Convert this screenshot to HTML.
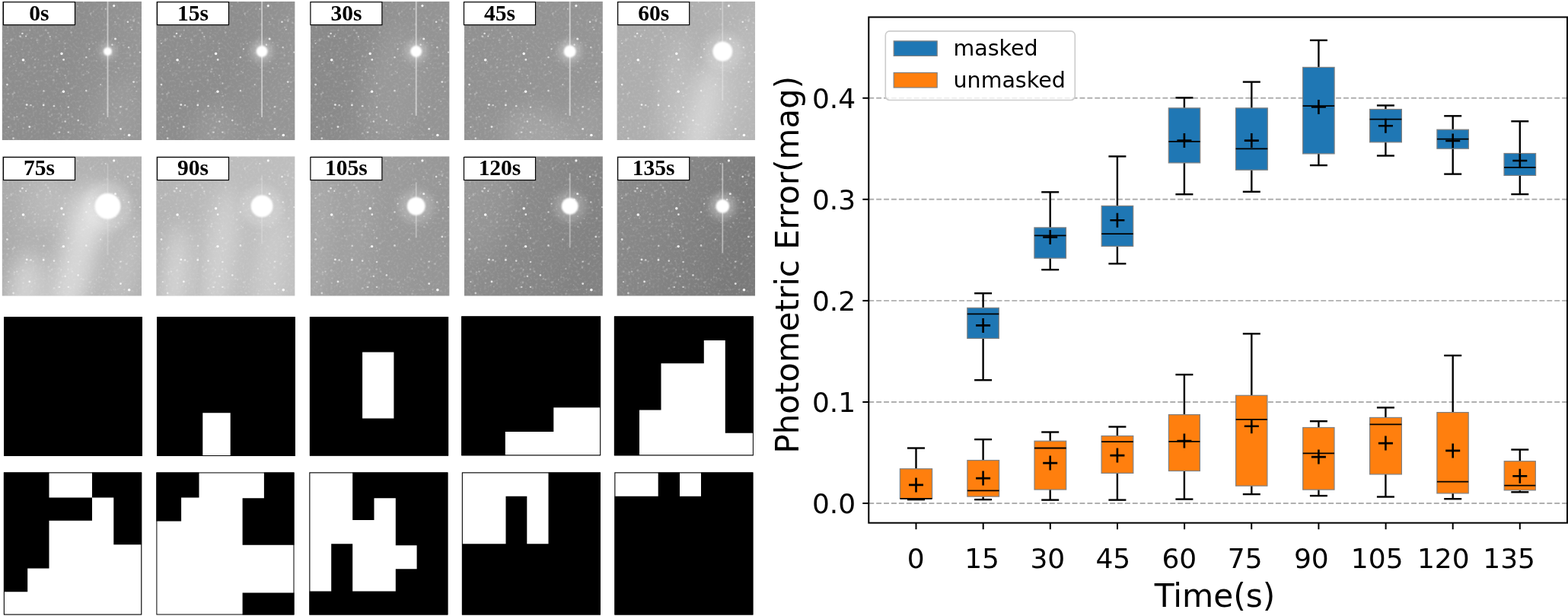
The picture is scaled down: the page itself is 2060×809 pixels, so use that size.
<!DOCTYPE html><html><head><meta charset="utf-8"><title>Photometric error figure</title>
<style>html,body{margin:0;padding:0;background:#fff;}body{width:2060px;height:809px;overflow:hidden;}svg{display:block}</style>
</head><body>
<svg width="2060" height="809" viewBox="0 0 2060 809">
<defs>
<filter id="bl" x="-50%" y="-50%" width="200%" height="200%"><feGaussianBlur stdDeviation="14"/></filter>
<filter id="nz" x="0" y="0" width="100%" height="100%"><feTurbulence type="fractalNoise" baseFrequency="0.3" numOctaves="2" seed="5"/><feColorMatrix type="matrix" values="0 0 0 0 1 0 0 0 0 1 0 0 0 0 1 1.3 0 0 0 -0.6"/></filter>
<filter id="bl3" x="-100%" y="-100%" width="300%" height="300%"><feGaussianBlur stdDeviation="5"/></filter>
<filter id="bl4" x="-50%" y="-50%" width="200%" height="200%"><feGaussianBlur stdDeviation="1.3"/></filter>
<filter id="bl2" x="-50%" y="-50%" width="200%" height="200%"><feGaussianBlur stdDeviation="0.75"/></filter>
<radialGradient id="st"><stop offset="0" stop-color="#fff" stop-opacity="1"/><stop offset="0.7" stop-color="#fff" stop-opacity="1"/><stop offset="0.85" stop-color="#fff" stop-opacity="0.55"/><stop offset="1" stop-color="#fff" stop-opacity="0"/></radialGradient>
<g id="sf" fill="#fff"><circle cx="147.1" cy="5.6" r="1.60" opacity="0.90"/><circle cx="165.3" cy="26.8" r="1.30" opacity="0.70"/><circle cx="148.9" cy="49.1" r="1.50" opacity="0.80"/><circle cx="26.8" cy="42.0" r="1.30" opacity="0.70"/><circle cx="31.5" cy="45.6" r="1.10" opacity="0.60"/><circle cx="78.4" cy="68.5" r="1.70" opacity="0.95"/><circle cx="27.9" cy="76.7" r="1.80" opacity="0.95"/><circle cx="81.0" cy="76.4" r="1.40" opacity="0.80"/><circle cx="110.7" cy="73.2" r="1.20" opacity="0.60"/><circle cx="114.8" cy="62.4" r="1.10" opacity="0.55"/><circle cx="181.2" cy="66.7" r="1.10" opacity="0.60"/><circle cx="166.5" cy="60.2" r="1.20" opacity="0.55"/><circle cx="144.8" cy="56.7" r="1.20" opacity="0.60"/><circle cx="6.8" cy="55.0" r="1.00" opacity="0.50"/><circle cx="170.6" cy="36.8" r="1.00" opacity="0.50"/><circle cx="136.0" cy="9.7" r="1.00" opacity="0.50"/><circle cx="63.2" cy="46.1" r="1.10" opacity="0.50"/><circle cx="6.8" cy="109.1" r="1.40" opacity="0.70"/><circle cx="80.8" cy="118.3" r="1.70" opacity="0.95"/><circle cx="110.7" cy="117.1" r="1.30" opacity="0.60"/><circle cx="54.9" cy="117.4" r="1.20" opacity="0.55"/><circle cx="32.6" cy="135.6" r="1.40" opacity="0.80"/><circle cx="37.9" cy="136.1" r="1.20" opacity="0.60"/><circle cx="54.6" cy="136.1" r="1.40" opacity="0.80"/><circle cx="68.4" cy="137.3" r="1.30" opacity="0.65"/><circle cx="87.2" cy="138.7" r="1.30" opacity="0.60"/><circle cx="83.1" cy="157.5" r="1.30" opacity="0.60"/><circle cx="100.1" cy="156.1" r="1.30" opacity="0.65"/><circle cx="36.2" cy="164.6" r="1.40" opacity="0.80"/><circle cx="8.6" cy="164.9" r="1.10" opacity="0.55"/><circle cx="155.9" cy="167.3" r="1.40" opacity="0.80"/><circle cx="167.1" cy="175.5" r="1.80" opacity="0.95"/><circle cx="75.5" cy="171.6" r="1.20" opacity="0.55"/><circle cx="87.2" cy="171.6" r="1.20" opacity="0.55"/><circle cx="173.0" cy="105.6" r="1.40" opacity="0.70"/><circle cx="155.9" cy="138.3" r="1.20" opacity="0.55"/><circle cx="15.0" cy="179.6" r="1.30" opacity="0.60"/><circle cx="129.5" cy="109.1" r="1.10" opacity="0.50"/><circle cx="87.2" cy="107.4" r="1.10" opacity="0.50"/><circle cx="59.6" cy="28.2" r="1.26" opacity="0.11"/><circle cx="98.0" cy="66.8" r="0.84" opacity="0.19"/><circle cx="7.8" cy="79.1" r="0.85" opacity="0.12"/><circle cx="77.8" cy="149.8" r="0.89" opacity="0.14"/><circle cx="114.6" cy="171.6" r="1.20" opacity="0.17"/><circle cx="177.7" cy="9.4" r="1.40" opacity="0.15"/><circle cx="27.1" cy="22.2" r="1.02" opacity="0.25"/><circle cx="33.7" cy="105.7" r="1.25" opacity="0.17"/><circle cx="100.1" cy="12.3" r="0.84" opacity="0.14"/><circle cx="124.2" cy="78.0" r="1.02" opacity="0.21"/><circle cx="83.0" cy="55.0" r="1.36" opacity="0.23"/><circle cx="45.2" cy="104.4" r="1.17" opacity="0.26"/><circle cx="133.0" cy="52.8" r="1.49" opacity="0.12"/><circle cx="76.7" cy="137.3" r="0.91" opacity="0.19"/><circle cx="8.1" cy="121.3" r="1.34" opacity="0.20"/><circle cx="159.5" cy="57.5" r="1.29" opacity="0.21"/><circle cx="106.0" cy="83.1" r="1.39" opacity="0.27"/><circle cx="86.8" cy="120.5" r="0.84" opacity="0.23"/><circle cx="118.1" cy="179.8" r="1.38" opacity="0.15"/><circle cx="70.8" cy="121.4" r="0.82" opacity="0.18"/><circle cx="31.4" cy="22.1" r="0.84" opacity="0.24"/><circle cx="24.4" cy="45.6" r="1.07" opacity="0.26"/><circle cx="15.6" cy="81.9" r="1.18" opacity="0.26"/><circle cx="149.3" cy="156.5" r="0.99" opacity="0.17"/><circle cx="65.9" cy="160.2" r="1.47" opacity="0.13"/><circle cx="32.9" cy="42.8" r="0.96" opacity="0.19"/><circle cx="107.6" cy="48.3" r="0.80" opacity="0.18"/><circle cx="67.8" cy="102.9" r="1.47" opacity="0.22"/><circle cx="94.3" cy="112.2" r="1.27" opacity="0.11"/><circle cx="163.8" cy="141.4" r="1.41" opacity="0.24"/><circle cx="72.0" cy="72.8" r="0.87" opacity="0.21"/><circle cx="12.3" cy="13.1" r="0.95" opacity="0.13"/><circle cx="62.5" cy="10.5" r="0.80" opacity="0.13"/><circle cx="19.4" cy="66.4" r="0.82" opacity="0.26"/><circle cx="112.1" cy="27.7" r="0.98" opacity="0.16"/><circle cx="66.9" cy="23.1" r="1.39" opacity="0.28"/><circle cx="85.3" cy="88.1" r="0.86" opacity="0.12"/><circle cx="63.0" cy="48.7" r="1.38" opacity="0.13"/><circle cx="5.2" cy="172.2" r="1.17" opacity="0.13"/><circle cx="99.3" cy="5.9" r="1.17" opacity="0.28"/><circle cx="157.3" cy="126.3" r="0.98" opacity="0.17"/><circle cx="31.2" cy="139.9" r="1.17" opacity="0.24"/><circle cx="60.7" cy="41.1" r="1.37" opacity="0.28"/><circle cx="155.3" cy="146.1" r="1.37" opacity="0.23"/><circle cx="42.0" cy="94.2" r="1.05" opacity="0.11"/><circle cx="6.1" cy="51.3" r="0.98" opacity="0.22"/><circle cx="174.1" cy="81.5" r="1.46" opacity="0.28"/><circle cx="173.9" cy="66.6" r="0.95" opacity="0.14"/><circle cx="36.6" cy="37.8" r="1.24" opacity="0.26"/><circle cx="153.1" cy="87.3" r="1.26" opacity="0.24"/><circle cx="16.3" cy="119.9" r="1.44" opacity="0.24"/><circle cx="136.8" cy="87.0" r="0.92" opacity="0.24"/><circle cx="61.2" cy="145.1" r="1.48" opacity="0.17"/><circle cx="73.7" cy="171.4" r="1.31" opacity="0.13"/><circle cx="24.0" cy="28.2" r="1.43" opacity="0.25"/><circle cx="27.5" cy="149.8" r="1.49" opacity="0.22"/><circle cx="64.4" cy="99.8" r="0.89" opacity="0.10"/><circle cx="176.7" cy="117.9" r="1.17" opacity="0.27"/><circle cx="79.5" cy="157.9" r="1.38" opacity="0.14"/><circle cx="46.6" cy="53.7" r="0.97" opacity="0.21"/><circle cx="47.9" cy="76.4" r="0.89" opacity="0.26"/><circle cx="65.0" cy="83.5" r="1.21" opacity="0.26"/><circle cx="77.1" cy="166.2" r="1.15" opacity="0.20"/><circle cx="95.8" cy="4.4" r="1.11" opacity="0.13"/><circle cx="1.7" cy="144.9" r="0.92" opacity="0.19"/><circle cx="132.3" cy="101.2" r="1.03" opacity="0.19"/><circle cx="101.5" cy="142.2" r="0.87" opacity="0.20"/><circle cx="46.0" cy="50.8" r="1.34" opacity="0.19"/><circle cx="102.7" cy="137.8" r="1.44" opacity="0.18"/><circle cx="111.9" cy="92.0" r="1.16" opacity="0.22"/><circle cx="82.9" cy="97.0" r="1.13" opacity="0.27"/><circle cx="127.6" cy="158.8" r="1.46" opacity="0.15"/><circle cx="102.3" cy="170.8" r="1.39" opacity="0.12"/><circle cx="23.0" cy="80.6" r="0.85" opacity="0.14"/><circle cx="14.2" cy="121.5" r="1.35" opacity="0.26"/><circle cx="29.0" cy="129.9" r="1.26" opacity="0.13"/><circle cx="160.8" cy="175.2" r="0.95" opacity="0.27"/><circle cx="73.1" cy="88.7" r="1.49" opacity="0.25"/><circle cx="30.2" cy="78.7" r="1.16" opacity="0.16"/><circle cx="36.4" cy="58.3" r="1.31" opacity="0.10"/><circle cx="101.3" cy="80.3" r="0.81" opacity="0.16"/><circle cx="113.9" cy="93.2" r="0.85" opacity="0.28"/><circle cx="143.7" cy="175.9" r="0.87" opacity="0.15"/><circle cx="8.2" cy="141.2" r="0.99" opacity="0.12"/><circle cx="77.4" cy="165.1" r="1.37" opacity="0.15"/><circle cx="28.0" cy="166.5" r="1.20" opacity="0.23"/><circle cx="17.2" cy="11.4" r="1.28" opacity="0.18"/><circle cx="14.1" cy="169.9" r="1.24" opacity="0.24"/><circle cx="16.2" cy="155.1" r="0.85" opacity="0.26"/><circle cx="83.1" cy="62.0" r="1.19" opacity="0.27"/><circle cx="49.5" cy="24.3" r="1.17" opacity="0.14"/><circle cx="20.8" cy="30.1" r="0.84" opacity="0.14"/><circle cx="57.5" cy="55.9" r="1.33" opacity="0.15"/><circle cx="91.5" cy="33.0" r="1.04" opacity="0.10"/><circle cx="46.3" cy="3.8" r="1.31" opacity="0.20"/><circle cx="35.3" cy="86.5" r="1.45" opacity="0.12"/><circle cx="149.2" cy="78.8" r="1.15" opacity="0.25"/><circle cx="72.1" cy="92.2" r="1.28" opacity="0.28"/><circle cx="63.0" cy="150.8" r="1.29" opacity="0.21"/><circle cx="74.3" cy="63.6" r="0.84" opacity="0.12"/><circle cx="13.8" cy="134.4" r="0.98" opacity="0.13"/><circle cx="16.3" cy="152.4" r="1.41" opacity="0.22"/><circle cx="52.0" cy="44.6" r="1.01" opacity="0.18"/><circle cx="29.5" cy="81.2" r="0.98" opacity="0.27"/><circle cx="177.0" cy="99.5" r="0.97" opacity="0.27"/><circle cx="57.0" cy="65.2" r="0.80" opacity="0.17"/><circle cx="86.9" cy="91.5" r="0.94" opacity="0.19"/><circle cx="1.9" cy="48.6" r="0.86" opacity="0.17"/><circle cx="8.5" cy="5.0" r="1.01" opacity="0.14"/><circle cx="107.0" cy="96.3" r="1.33" opacity="0.22"/><circle cx="130.6" cy="159.2" r="1.07" opacity="0.16"/><circle cx="179.2" cy="27.9" r="1.31" opacity="0.22"/><circle cx="8.9" cy="151.4" r="1.42" opacity="0.21"/><circle cx="133.8" cy="147.2" r="0.90" opacity="0.19"/><circle cx="92.3" cy="151.3" r="1.36" opacity="0.25"/><circle cx="106.7" cy="161.7" r="1.28" opacity="0.22"/><circle cx="42.6" cy="6.6" r="0.89" opacity="0.16"/><circle cx="20.0" cy="151.4" r="1.19" opacity="0.21"/><circle cx="114.3" cy="123.5" r="1.14" opacity="0.10"/><circle cx="145.4" cy="135.7" r="1.15" opacity="0.20"/><circle cx="120.3" cy="12.9" r="1.32" opacity="0.15"/><circle cx="14.5" cy="48.8" r="1.31" opacity="0.14"/><circle cx="134.9" cy="176.6" r="1.15" opacity="0.17"/><circle cx="87.7" cy="124.1" r="1.34" opacity="0.21"/><circle cx="117.3" cy="14.9" r="0.90" opacity="0.15"/><circle cx="135.5" cy="55.8" r="1.20" opacity="0.10"/><circle cx="12.0" cy="49.4" r="1.27" opacity="0.22"/><circle cx="123.3" cy="53.4" r="1.16" opacity="0.18"/><circle cx="85.4" cy="22.3" r="1.43" opacity="0.14"/><circle cx="178.0" cy="169.5" r="0.81" opacity="0.18"/><circle cx="149.4" cy="175.3" r="1.11" opacity="0.15"/><circle cx="39.0" cy="171.2" r="0.95" opacity="0.20"/><circle cx="26.7" cy="95.3" r="1.47" opacity="0.12"/><circle cx="149.5" cy="92.6" r="1.42" opacity="0.23"/><circle cx="42.9" cy="162.6" r="1.14" opacity="0.10"/><circle cx="1.6" cy="89.5" r="1.12" opacity="0.15"/><circle cx="26.5" cy="62.9" r="1.02" opacity="0.25"/><circle cx="1.3" cy="136.1" r="1.39" opacity="0.12"/><circle cx="168.7" cy="129.3" r="1.43" opacity="0.15"/><circle cx="68.4" cy="71.7" r="1.50" opacity="0.21"/><circle cx="66.3" cy="78.0" r="0.99" opacity="0.11"/><circle cx="19.4" cy="151.2" r="1.00" opacity="0.27"/><circle cx="46.1" cy="48.8" r="1.16" opacity="0.13"/><circle cx="68.6" cy="173.1" r="1.42" opacity="0.25"/><circle cx="115.2" cy="165.4" r="1.46" opacity="0.20"/><circle cx="131.2" cy="9.9" r="1.31" opacity="0.18"/><circle cx="137.2" cy="117.0" r="1.00" opacity="0.11"/><circle cx="168.7" cy="23.9" r="1.13" opacity="0.16"/><circle cx="54.9" cy="134.0" r="1.48" opacity="0.15"/><circle cx="119.7" cy="55.2" r="1.19" opacity="0.17"/><circle cx="31.3" cy="30.1" r="0.95" opacity="0.26"/><circle cx="91.0" cy="40.6" r="1.43" opacity="0.28"/><circle cx="82.4" cy="26.1" r="0.93" opacity="0.12"/><circle cx="62.9" cy="17.4" r="0.97" opacity="0.15"/><circle cx="104.1" cy="160.7" r="1.32" opacity="0.17"/><circle cx="75.9" cy="95.4" r="1.06" opacity="0.16"/><circle cx="12.2" cy="51.0" r="1.48" opacity="0.12"/><circle cx="92.1" cy="114.3" r="1.40" opacity="0.14"/><circle cx="50.1" cy="45.7" r="1.08" opacity="0.18"/><circle cx="173.7" cy="153.8" r="1.41" opacity="0.10"/><circle cx="6.8" cy="128.7" r="1.43" opacity="0.19"/><circle cx="107.3" cy="1.0" r="1.07" opacity="0.27"/><circle cx="150.4" cy="155.0" r="1.48" opacity="0.14"/><circle cx="20.7" cy="28.8" r="1.17" opacity="0.22"/><circle cx="171.4" cy="130.9" r="1.25" opacity="0.24"/><circle cx="83.8" cy="100.3" r="0.83" opacity="0.24"/><circle cx="43.1" cy="166.6" r="1.25" opacity="0.15"/><circle cx="24.2" cy="46.3" r="1.25" opacity="0.23"/><circle cx="21.3" cy="13.7" r="1.17" opacity="0.20"/><circle cx="71.2" cy="41.2" r="1.22" opacity="0.10"/><circle cx="55.6" cy="83.9" r="1.47" opacity="0.22"/><circle cx="161.0" cy="86.6" r="0.96" opacity="0.14"/><circle cx="174.9" cy="127.8" r="1.02" opacity="0.10"/><circle cx="91.2" cy="122.4" r="1.09" opacity="0.15"/><circle cx="121.8" cy="167.5" r="0.96" opacity="0.11"/><circle cx="62.2" cy="76.7" r="1.28" opacity="0.14"/><circle cx="145.3" cy="134.0" r="1.15" opacity="0.14"/><circle cx="176.5" cy="57.1" r="1.37" opacity="0.14"/><circle cx="41.1" cy="137.9" r="1.01" opacity="0.27"/><circle cx="90.7" cy="34.7" r="0.96" opacity="0.18"/><circle cx="121.4" cy="171.8" r="0.90" opacity="0.17"/><circle cx="39.5" cy="176.3" r="0.90" opacity="0.11"/><circle cx="11.9" cy="71.8" r="1.43" opacity="0.26"/><circle cx="133.6" cy="180.6" r="1.45" opacity="0.16"/><circle cx="34.6" cy="169.5" r="1.32" opacity="0.11"/><circle cx="121.3" cy="69.2" r="1.06" opacity="0.16"/><circle cx="31.6" cy="1.5" r="1.00" opacity="0.16"/><circle cx="173.9" cy="23.3" r="1.47" opacity="0.14"/><circle cx="65.5" cy="148.9" r="1.38" opacity="0.18"/><circle cx="9.9" cy="86.2" r="1.06" opacity="0.27"/><circle cx="35.9" cy="66.6" r="1.43" opacity="0.11"/><circle cx="75.4" cy="147.1" r="1.34" opacity="0.11"/><circle cx="7.3" cy="12.3" r="1.44" opacity="0.15"/><circle cx="136.3" cy="162.7" r="1.04" opacity="0.15"/><circle cx="174.3" cy="112.1" r="0.98" opacity="0.23"/><circle cx="58.3" cy="50.6" r="0.80" opacity="0.24"/><circle cx="166.9" cy="115.1" r="1.46" opacity="0.10"/><circle cx="43.3" cy="86.5" r="1.47" opacity="0.27"/><circle cx="71.0" cy="46.2" r="1.10" opacity="0.19"/><circle cx="169.0" cy="33.9" r="1.36" opacity="0.23"/><circle cx="149.9" cy="140.1" r="1.23" opacity="0.16"/><circle cx="58.8" cy="66.1" r="1.35" opacity="0.11"/><circle cx="36.7" cy="136.5" r="0.97" opacity="0.11"/><circle cx="7.1" cy="100.5" r="1.03" opacity="0.28"/><circle cx="160.9" cy="178.8" r="0.99" opacity="0.12"/><circle cx="18.5" cy="90.7" r="1.30" opacity="0.18"/><circle cx="43.4" cy="76.0" r="1.23" opacity="0.22"/><circle cx="136.4" cy="153.5" r="1.27" opacity="0.12"/><circle cx="153.2" cy="53.9" r="1.20" opacity="0.17"/><circle cx="134.6" cy="36.9" r="0.97" opacity="0.14"/><circle cx="28.8" cy="160.2" r="1.20" opacity="0.16"/><circle cx="72.7" cy="179.6" r="1.16" opacity="0.14"/><circle cx="147.3" cy="118.6" r="1.49" opacity="0.12"/><circle cx="86.9" cy="148.4" r="1.39" opacity="0.26"/><circle cx="8.3" cy="53.9" r="0.88" opacity="0.13"/><circle cx="177.1" cy="106.0" r="1.45" opacity="0.17"/><circle cx="157.8" cy="81.8" r="0.98" opacity="0.24"/><circle cx="172.2" cy="20.0" r="1.22" opacity="0.21"/><circle cx="40.4" cy="67.4" r="0.90" opacity="0.14"/><circle cx="47.1" cy="108.9" r="1.26" opacity="0.14"/><circle cx="3.1" cy="59.9" r="1.27" opacity="0.13"/><circle cx="57.5" cy="37.6" r="1.36" opacity="0.20"/><circle cx="12.5" cy="19.2" r="1.08" opacity="0.20"/><circle cx="116.7" cy="17.4" r="0.91" opacity="0.23"/><circle cx="75.2" cy="52.0" r="1.02" opacity="0.27"/><circle cx="57.5" cy="103.0" r="1.05" opacity="0.17"/><circle cx="157.4" cy="180.4" r="1.05" opacity="0.14"/><circle cx="132.8" cy="37.7" r="0.80" opacity="0.26"/><circle cx="77.7" cy="148.7" r="1.08" opacity="0.26"/><circle cx="84.4" cy="30.3" r="0.81" opacity="0.20"/><circle cx="117.0" cy="164.8" r="0.86" opacity="0.21"/><circle cx="68.1" cy="91.8" r="0.90" opacity="0.15"/><circle cx="95.3" cy="167.6" r="0.88" opacity="0.19"/><circle cx="146.7" cy="175.0" r="0.94" opacity="0.12"/><circle cx="171.7" cy="176.6" r="1.14" opacity="0.11"/><circle cx="168.6" cy="70.8" r="1.43" opacity="0.21"/><circle cx="150.2" cy="29.8" r="1.35" opacity="0.14"/><circle cx="74.2" cy="153.3" r="1.38" opacity="0.13"/><circle cx="40.5" cy="73.0" r="1.16" opacity="0.17"/><circle cx="23.3" cy="45.5" r="1.31" opacity="0.26"/><circle cx="8.4" cy="102.2" r="1.33" opacity="0.11"/><circle cx="152.7" cy="22.2" r="1.22" opacity="0.20"/><circle cx="114.5" cy="56.1" r="1.09" opacity="0.20"/><circle cx="78.1" cy="119.6" r="1.11" opacity="0.18"/><circle cx="5.2" cy="112.4" r="1.14" opacity="0.14"/><circle cx="139.2" cy="141.4" r="1.12" opacity="0.13"/><circle cx="86.7" cy="20.3" r="0.89" opacity="0.18"/><circle cx="17.6" cy="80.6" r="1.16" opacity="0.11"/><circle cx="116.2" cy="15.8" r="1.31" opacity="0.24"/><circle cx="93.6" cy="10.8" r="1.15" opacity="0.17"/><circle cx="173.1" cy="25.5" r="1.40" opacity="0.28"/><circle cx="133.5" cy="147.7" r="0.94" opacity="0.28"/><circle cx="90.0" cy="173.2" r="1.44" opacity="0.13"/><circle cx="143.7" cy="168.5" r="0.85" opacity="0.16"/><circle cx="137.9" cy="29.6" r="1.43" opacity="0.15"/><circle cx="148.6" cy="26.8" r="1.15" opacity="0.27"/><circle cx="38.7" cy="48.3" r="1.15" opacity="0.16"/><circle cx="7.7" cy="33.8" r="0.91" opacity="0.27"/><circle cx="124.0" cy="162.2" r="0.92" opacity="0.24"/><circle cx="21.8" cy="96.5" r="1.25" opacity="0.16"/></g>
<clipPath id="c0"><rect x="0" y="0" width="183.4" height="182.1"/></clipPath>
<linearGradient id="g0" x1="0" y1="0" x2="1" y2="0.3"><stop offset="0" stop-color="#8d8d8d"/><stop offset="0.55" stop-color="#8d8d8d"/><stop offset="1" stop-color="#969696"/></linearGradient>
<clipPath id="c1"><rect x="0" y="0" width="182.4" height="182.1"/></clipPath>
<linearGradient id="g1" x1="0" y1="0" x2="1" y2="0.3"><stop offset="0" stop-color="#8d8d8d"/><stop offset="0.6" stop-color="#8d8d8d"/><stop offset="1" stop-color="#959595"/></linearGradient>
<clipPath id="c2"><rect x="0" y="0" width="182.8" height="182.1"/></clipPath>
<linearGradient id="g2" x1="0" y1="0" x2="1" y2="0.2"><stop offset="0" stop-color="#898989"/><stop offset="0.35" stop-color="#8a8a8a"/><stop offset="0.6" stop-color="#929292"/><stop offset="1" stop-color="#949494"/></linearGradient>
<clipPath id="c3"><rect x="0" y="0" width="182.1" height="182.1"/></clipPath>
<linearGradient id="g3" x1="0" y1="0" x2="1" y2="0.6"><stop offset="0" stop-color="#909090"/><stop offset="1" stop-color="#969696"/></linearGradient>
<clipPath id="c4"><rect x="0" y="0" width="181.8" height="182.1"/></clipPath>
<linearGradient id="g4" x1="0" y1="0" x2="1" y2="0.2"><stop offset="0" stop-color="#acacac"/><stop offset="0.6" stop-color="#b0b0b0"/><stop offset="1" stop-color="#b6b6b6"/></linearGradient>
<clipPath id="c5"><rect x="0" y="0" width="183.4" height="183.4"/></clipPath>
<linearGradient id="g5" x1="0" y1="0" x2="1" y2="0.0"><stop offset="0" stop-color="#aaaaaa"/><stop offset="0.15" stop-color="#b0b0b0"/><stop offset="0.5" stop-color="#b2b2b2"/><stop offset="1" stop-color="#b0b0b0"/></linearGradient>
<clipPath id="c6"><rect x="0" y="0" width="182.4" height="183.4"/></clipPath>
<linearGradient id="g6" x1="0" y1="0" x2="1" y2="0.0"><stop offset="0" stop-color="#b4b4b4"/><stop offset="0.5" stop-color="#bcbcbc"/><stop offset="1" stop-color="#bebebe"/></linearGradient>
<clipPath id="c7"><rect x="0" y="0" width="182.8" height="183.4"/></clipPath>
<linearGradient id="g7" x1="0" y1="0" x2="1" y2="0.3"><stop offset="0" stop-color="#a6a6a6"/><stop offset="0.35" stop-color="#9e9e9e"/><stop offset="1" stop-color="#969696"/></linearGradient>
<clipPath id="c8"><rect x="0" y="0" width="182.1" height="183.4"/></clipPath>
<linearGradient id="g8" x1="0" y1="0" x2="1" y2="0.4"><stop offset="0" stop-color="#969696"/><stop offset="0.4" stop-color="#8c8c8c"/><stop offset="1" stop-color="#828282"/></linearGradient>
<clipPath id="c9"><rect x="0" y="0" width="181.8" height="183.4"/></clipPath>
<linearGradient id="g9" x1="0" y1="0" x2="1" y2="0.4"><stop offset="0" stop-color="#8c8c8c"/><stop offset="0.5" stop-color="#858585"/><stop offset="1" stop-color="#7a7a7a"/></linearGradient>
</defs>
<g transform="translate(2.6,2.0)" clip-path="url(#c0)">
<rect width="183.4" height="182.1" fill="url(#g0)"/>
<ellipse cx="150" cy="150" rx="30" ry="50" transform="rotate(10 150 150)" fill="#fff" opacity="0.06" filter="url(#bl)"/>
<rect width="183.4" height="182.1" filter="url(#nz)" opacity="0.25"/>
<use href="#sf" filter="url(#bl2)"/>
<rect x="138.0" y="0" width="1.8" height="152" fill="#fff" opacity="0.5" filter="url(#bl2)"/>
<circle cx="138.9" cy="65.5" r="10.4" fill="#fff" opacity="0.3" filter="url(#bl3)"/>
<circle cx="138.9" cy="65.5" r="5.5" fill="#fff" filter="url(#bl4)"/>
</g>
<rect x="4.5" y="2.7" width="94" height="30" fill="#fff" stroke="#000" stroke-width="1.2"/>
<text x="51.5" y="26.7" text-anchor="middle" font-family="Liberation Serif, serif" font-weight="bold" font-size="29.5" transform="translate(0 26.7) scale(1 1.03) translate(0 -26.7)">0s</text>
<g transform="translate(205.2,2.0)" clip-path="url(#c1)">
<rect width="182.4" height="182.1" fill="url(#g1)"/>
<ellipse cx="75" cy="172" rx="28" ry="40" transform="rotate(15 75 172)" fill="#fff" opacity="0.1" filter="url(#bl)"/>
<rect width="182.4" height="182.1" filter="url(#nz)" opacity="0.25"/>
<use href="#sf" filter="url(#bl2)"/>
<rect x="138.0" y="0" width="1.8" height="152" fill="#fff" opacity="0.5" filter="url(#bl2)"/>
<circle cx="138.9" cy="65.5" r="14.2" fill="#fff" opacity="0.3" filter="url(#bl3)"/>
<circle cx="138.9" cy="65.5" r="7.5" fill="#fff" filter="url(#bl4)"/>
</g>
<rect x="206.5" y="2.7" width="94" height="30" fill="#fff" stroke="#000" stroke-width="1.2"/>
<text x="253.5" y="26.7" text-anchor="middle" font-family="Liberation Serif, serif" font-weight="bold" font-size="29.5" transform="translate(0 26.7) scale(1 1.03) translate(0 -26.7)">15s</text>
<g transform="translate(407.8,2.0)" clip-path="url(#c2)">
<rect width="182.8" height="182.1" fill="url(#g2)"/>
<ellipse cx="110" cy="110" rx="40" ry="80" transform="rotate(10 110 110)" fill="#fff" opacity="0.06" filter="url(#bl)"/>
<rect width="182.8" height="182.1" filter="url(#nz)" opacity="0.25"/>
<use href="#sf" filter="url(#bl2)"/>
<rect x="138.0" y="0" width="1.8" height="150" fill="#fff" opacity="0.5" filter="url(#bl2)"/>
<circle cx="138.9" cy="65.5" r="14.2" fill="#fff" opacity="0.3" filter="url(#bl3)"/>
<circle cx="138.9" cy="65.5" r="7.5" fill="#fff" filter="url(#bl4)"/>
</g>
<rect x="407.9" y="2.7" width="94" height="30" fill="#fff" stroke="#000" stroke-width="1.2"/>
<text x="454.9" y="26.7" text-anchor="middle" font-family="Liberation Serif, serif" font-weight="bold" font-size="29.5" transform="translate(0 26.7) scale(1 1.03) translate(0 -26.7)">30s</text>
<g transform="translate(609.8,2.0)" clip-path="url(#c3)">
<rect width="182.1" height="182.1" fill="url(#g3)"/>
<ellipse cx="95" cy="175" rx="45" ry="35" transform="rotate(15 95 175)" fill="#fff" opacity="0.14" filter="url(#bl)"/>
<ellipse cx="160" cy="165" rx="25" ry="40" transform="rotate(15 160 165)" fill="#fff" opacity="0.08" filter="url(#bl)"/>
<rect width="182.1" height="182.1" filter="url(#nz)" opacity="0.25"/>
<use href="#sf" filter="url(#bl2)"/>
<rect x="138.0" y="0" width="1.8" height="150" fill="#fff" opacity="0.55" filter="url(#bl2)"/>
<circle cx="138.9" cy="65.5" r="15.2" fill="#fff" opacity="0.3" filter="url(#bl3)"/>
<circle cx="138.9" cy="65.5" r="8.0" fill="#fff" filter="url(#bl4)"/>
</g>
<rect x="609.5" y="2.7" width="94" height="30" fill="#fff" stroke="#000" stroke-width="1.2"/>
<text x="656.5" y="26.7" text-anchor="middle" font-family="Liberation Serif, serif" font-weight="bold" font-size="29.5" transform="translate(0 26.7) scale(1 1.03) translate(0 -26.7)">45s</text>
<g transform="translate(810.4,2.0)" clip-path="url(#c4)">
<rect width="181.8" height="182.1" fill="url(#g4)"/>
<ellipse cx="108" cy="165" rx="22" ry="90" transform="rotate(12 108 165)" fill="#fff" opacity="0.45" filter="url(#bl)"/>
<ellipse cx="75" cy="120" rx="14" ry="80" transform="rotate(8 75 120)" fill="#fff" opacity="0.22" filter="url(#bl)"/>
<ellipse cx="150" cy="120" rx="18" ry="90" transform="rotate(10 150 120)" fill="#fff" opacity="0.14" filter="url(#bl)"/>
<rect width="181.8" height="182.1" filter="url(#nz)" opacity="0.25"/>
<use href="#sf" filter="url(#bl2)"/>
<rect x="138.0" y="0" width="1.8" height="130" fill="#fff" opacity="0.3" filter="url(#bl2)"/>
<circle cx="138.9" cy="65.5" r="24.7" fill="#fff" opacity="0.2" filter="url(#bl3)"/>
<circle cx="138.9" cy="65.5" r="13.0" fill="#fff" filter="url(#bl4)"/>
</g>
<rect x="811.7" y="2.7" width="94" height="30" fill="#fff" stroke="#000" stroke-width="1.2"/>
<text x="858.7" y="26.7" text-anchor="middle" font-family="Liberation Serif, serif" font-weight="bold" font-size="29.5" transform="translate(0 26.7) scale(1 1.03) translate(0 -26.7)">60s</text>
<g transform="translate(2.6,205.3)" clip-path="url(#c5)">
<rect width="183.4" height="183.4" fill="url(#g5)"/>
<ellipse cx="95" cy="150" rx="24" ry="105" transform="rotate(15 95 150)" fill="#fff" opacity="0.5" filter="url(#bl)"/>
<ellipse cx="30" cy="182" rx="22" ry="55" transform="rotate(10 30 182)" fill="#fff" opacity="0.45" filter="url(#bl)"/>
<ellipse cx="118" cy="72" rx="35" ry="40" transform="rotate(0 118 72)" fill="#fff" opacity="0.25" filter="url(#bl)"/>
<ellipse cx="160" cy="150" rx="18" ry="70" transform="rotate(15 160 150)" fill="#fff" opacity="0.22" filter="url(#bl)"/>
<ellipse cx="60" cy="60" rx="25" ry="40" transform="rotate(0 60 60)" fill="#fff" opacity="0.12" filter="url(#bl)"/>
<rect width="183.4" height="183.4" filter="url(#nz)" opacity="0.25"/>
<use href="#sf" filter="url(#bl2)"/>
<rect x="138.0" y="10" width="1.8" height="120" fill="#fff" opacity="0.2" filter="url(#bl2)"/>
<circle cx="138.9" cy="65.5" r="32.3" fill="#fff" opacity="0.2" filter="url(#bl3)"/>
<circle cx="138.9" cy="65.5" r="17.0" fill="#fff" filter="url(#bl4)"/>
</g>
<rect x="4.5" y="206.5" width="94" height="30" fill="#fff" stroke="#000" stroke-width="1.2"/>
<text x="51.5" y="230.5" text-anchor="middle" font-family="Liberation Serif, serif" font-weight="bold" font-size="29.5" transform="translate(0 230.5) scale(1 1.03) translate(0 -230.5)">75s</text>
<g transform="translate(205.2,205.3)" clip-path="url(#c6)">
<rect width="182.4" height="183.4" fill="url(#g6)"/>
<ellipse cx="25" cy="165" rx="14" ry="75" transform="rotate(5 25 165)" fill="#fff" opacity="0.5" filter="url(#bl)"/>
<ellipse cx="82" cy="140" rx="20" ry="100" transform="rotate(8 82 140)" fill="#fff" opacity="0.32" filter="url(#bl)"/>
<ellipse cx="150" cy="150" rx="22" ry="80" transform="rotate(8 150 150)" fill="#fff" opacity="0.22" filter="url(#bl)"/>
<rect width="182.4" height="183.4" filter="url(#nz)" opacity="0.25"/>
<use href="#sf" filter="url(#bl2)"/>
<rect x="138.0" y="25" width="1.8" height="90" fill="#fff" opacity="0.2" filter="url(#bl2)"/>
<circle cx="138.9" cy="65.5" r="27.5" fill="#fff" opacity="0.2" filter="url(#bl3)"/>
<circle cx="138.9" cy="65.5" r="14.5" fill="#fff" filter="url(#bl4)"/>
</g>
<rect x="206.5" y="206.5" width="94" height="30" fill="#fff" stroke="#000" stroke-width="1.2"/>
<text x="253.5" y="230.5" text-anchor="middle" font-family="Liberation Serif, serif" font-weight="bold" font-size="29.5" transform="translate(0 230.5) scale(1 1.03) translate(0 -230.5)">90s</text>
<g transform="translate(407.8,205.3)" clip-path="url(#c7)">
<rect width="182.8" height="183.4" fill="url(#g7)"/>
<ellipse cx="12" cy="120" rx="14" ry="100" transform="rotate(5 12 120)" fill="#fff" opacity="0.12" filter="url(#bl)"/>
<ellipse cx="60" cy="110" rx="20" ry="110" transform="rotate(5 60 110)" fill="#fff" opacity="0.06" filter="url(#bl)"/>
<rect width="182.8" height="183.4" filter="url(#nz)" opacity="0.25"/>
<use href="#sf" filter="url(#bl2)"/>
<rect x="138.0" y="34" width="1.8" height="73" fill="#fff" opacity="0.35" filter="url(#bl2)"/>
<circle cx="138.9" cy="65.5" r="22.8" fill="#fff" opacity="0.2" filter="url(#bl3)"/>
<circle cx="138.9" cy="65.5" r="12.0" fill="#fff" filter="url(#bl4)"/>
</g>
<rect x="407.9" y="206.5" width="94" height="30" fill="#fff" stroke="#000" stroke-width="1.2"/>
<text x="454.9" y="230.5" text-anchor="middle" font-family="Liberation Serif, serif" font-weight="bold" font-size="29.5" transform="translate(0 230.5) scale(1 1.03) translate(0 -230.5)">105s</text>
<g transform="translate(609.8,205.3)" clip-path="url(#c8)">
<rect width="182.1" height="183.4" fill="url(#g8)"/>
<ellipse cx="30" cy="60" rx="35" ry="80" transform="rotate(10 30 60)" fill="#fff" opacity="0.06" filter="url(#bl)"/>
<rect width="182.1" height="183.4" filter="url(#nz)" opacity="0.25"/>
<use href="#sf" filter="url(#bl2)"/>
<rect x="138.0" y="22" width="1.8" height="98" fill="#fff" opacity="0.4" filter="url(#bl2)"/>
<circle cx="138.9" cy="65.5" r="20.9" fill="#fff" opacity="0.2" filter="url(#bl3)"/>
<circle cx="138.9" cy="65.5" r="11.0" fill="#fff" filter="url(#bl4)"/>
</g>
<rect x="609.5" y="206.5" width="94" height="30" fill="#fff" stroke="#000" stroke-width="1.2"/>
<text x="656.5" y="230.5" text-anchor="middle" font-family="Liberation Serif, serif" font-weight="bold" font-size="29.5" transform="translate(0 230.5) scale(1 1.03) translate(0 -230.5)">120s</text>
<g transform="translate(810.4,205.3)" clip-path="url(#c9)">
<rect width="181.8" height="183.4" fill="url(#g9)"/>
<rect width="181.8" height="183.4" filter="url(#nz)" opacity="0.25"/>
<use href="#sf" filter="url(#bl2)"/>
<rect x="138.0" y="9" width="1.8" height="118" fill="#fff" opacity="0.45" filter="url(#bl2)"/>
<circle cx="138.9" cy="65.5" r="17.1" fill="#fff" opacity="0.3" filter="url(#bl3)"/>
<circle cx="138.9" cy="65.5" r="9.0" fill="#fff" filter="url(#bl4)"/>
</g>
<rect x="811.7" y="206.5" width="94" height="30" fill="#fff" stroke="#000" stroke-width="1.2"/>
<text x="858.7" y="230.5" text-anchor="middle" font-family="Liberation Serif, serif" font-weight="bold" font-size="29.5" transform="translate(0 230.5) scale(1 1.03) translate(0 -230.5)">135s</text>
<rect x="5.2" y="416.1" width="181.7" height="182.9" fill="#000"/>
<rect x="5.7" y="416.6" width="180.7" height="181.9" fill="none" stroke="#000" stroke-width="1"/>
<rect x="206.1" y="416.1" width="181.7" height="182.9" fill="#000"/>
<polygon fill="#fff" points="266.3,542.2 302.7,542.2 302.7,599.0 266.3,599.0"/>
<rect x="206.6" y="416.6" width="180.7" height="181.9" fill="none" stroke="#000" stroke-width="1"/>
<rect x="406.9" y="416.1" width="182.2" height="182.5" fill="#000"/>
<polygon fill="#fff" points="476.1,462.4 517.4,462.4 517.4,549.6 476.1,549.6"/>
<rect x="407.4" y="416.6" width="181.2" height="181.5" fill="none" stroke="#000" stroke-width="1"/>
<rect x="606.2" y="415.4" width="182.9" height="182.9" fill="#000"/>
<polygon fill="#fff" points="663.8,566.9 727.3,566.9 727.3,535.3 789.1,535.3 789.1,598.3 663.8,598.3"/>
<rect x="606.7" y="415.9" width="181.9" height="181.9" fill="none" stroke="#000" stroke-width="1"/>
<rect x="806.9" y="415.4" width="183.0" height="182.9" fill="#000"/>
<polygon fill="#fff" points="840.0,598.3 840.0,538.5 868.5,538.5 868.5,477.2 924.8,477.2 924.8,447.0 952.8,447.0 952.8,568.7 989.9,568.7 989.9,598.3"/>
<rect x="807.4" y="415.9" width="182.0" height="181.9" fill="none" stroke="#000" stroke-width="1"/>
<rect x="4.9" y="620.4" width="181.3" height="187.1" fill="#000"/>
<polygon fill="#fff" points="64.5,620.4 121.0,620.4 121.0,653.5 64.5,653.5"/>
<polygon fill="#fff" points="121.0,653.5 149.3,653.5 149.3,715.3 186.2,715.3 186.2,807.5 4.9,807.5 4.9,777.3 36.2,777.3 36.2,746.5 64.5,746.5 64.5,683.8 121.0,683.8"/>
<rect x="5.4" y="620.9" width="180.3" height="186.1" fill="none" stroke="#000" stroke-width="1"/>
<rect x="205.4" y="620.4" width="181.1" height="187.1" fill="#fff"/>
<polygon fill="#000" points="205.4,620.4 261.5,620.4 261.5,653.5 238.1,653.5 238.1,684.5 205.4,684.5"/>
<polygon fill="#000" points="346.9,620.4 386.5,620.4 386.5,715.8 318.6,715.8 318.6,654.3 346.9,654.3"/>
<polygon fill="#000" points="318.6,778.5 386.5,778.5 386.5,807.5 318.6,807.5"/>
<rect x="205.9" y="620.9" width="180.1" height="186.1" fill="none" stroke="#000" stroke-width="1"/>
<rect x="406.4" y="620.4" width="182.0" height="187.1" fill="#000"/>
<polygon fill="#fff" points="406.4,620.4 463.2,620.4 463.2,683.1 491.5,683.1 491.5,654.3 519.8,654.3 519.8,716.3 547.6,716.3 547.6,747.3 519.8,747.3 519.8,776.5 463.2,776.5 463.2,714.3 435.2,714.3 435.2,776.5 406.4,776.5"/>
<rect x="406.9" y="620.9" width="181.0" height="186.1" fill="none" stroke="#000" stroke-width="1"/>
<rect x="606.9" y="620.4" width="182.0" height="187.1" fill="#000"/>
<polygon fill="#fff" points="606.9,620.4 720.5,620.4 720.5,714.3 692.3,714.3 692.3,651.8 664.5,651.8 664.5,714.3 606.9,714.3"/>
<rect x="607.4" y="620.9" width="181.0" height="186.1" fill="none" stroke="#000" stroke-width="1"/>
<rect x="807.4" y="620.4" width="182.0" height="187.1" fill="#000"/>
<polygon fill="#fff" points="807.4,620.4 864.7,620.4 864.7,651.8 807.4,651.8"/>
<polygon fill="#fff" points="893.0,620.4 921.0,620.4 921.0,651.8 893.0,651.8"/>
<rect x="807.9" y="620.9" width="181.0" height="186.1" fill="none" stroke="#000" stroke-width="1"/>
<line x1="1141.3" y1="661.0" x2="2059.0" y2="661.0" stroke="#b0b0b0" stroke-width="1.9" stroke-dasharray="6.9 3.0"/>
<line x1="1141.3" y1="528.0" x2="2059.0" y2="528.0" stroke="#b0b0b0" stroke-width="1.9" stroke-dasharray="6.9 3.0"/>
<line x1="1141.3" y1="394.9" x2="2059.0" y2="394.9" stroke="#b0b0b0" stroke-width="1.9" stroke-dasharray="6.9 3.0"/>
<line x1="1141.3" y1="261.8" x2="2059.0" y2="261.8" stroke="#b0b0b0" stroke-width="1.9" stroke-dasharray="6.9 3.0"/>
<line x1="1141.3" y1="128.8" x2="2059.0" y2="128.8" stroke="#b0b0b0" stroke-width="1.9" stroke-dasharray="6.9 3.0"/>
<line x1="1291.6" y1="385.2" x2="1291.6" y2="404.3" stroke="#000" stroke-width="2.4"/><line x1="1291.6" y1="444.4" x2="1291.6" y2="499.2" stroke="#000" stroke-width="2.4"/><line x1="1280.1" y1="385.2" x2="1303.1" y2="385.2" stroke="#000" stroke-width="2.4"/><line x1="1280.1" y1="499.2" x2="1303.1" y2="499.2" stroke="#000" stroke-width="2.4"/><rect x="1270.8" y="404.3" width="41.5" height="40.1" fill="#1f77b4" stroke="#808080" stroke-width="1.2"/><line x1="1270.8" y1="412.4" x2="1312.3" y2="412.4" stroke="#000" stroke-width="1.8"/><path d="M1282.1 427.4H1301.1M1291.6 417.9V436.9" stroke="#000" stroke-width="2.6" fill="none"/>
<line x1="1379.7" y1="252.3" x2="1379.7" y2="298.9" stroke="#000" stroke-width="2.4"/><line x1="1379.7" y1="339.1" x2="1379.7" y2="354.2" stroke="#000" stroke-width="2.4"/><line x1="1368.2" y1="252.3" x2="1391.2" y2="252.3" stroke="#000" stroke-width="2.4"/><line x1="1368.2" y1="354.2" x2="1391.2" y2="354.2" stroke="#000" stroke-width="2.4"/><rect x="1358.9" y="298.9" width="41.6" height="40.2" fill="#1f77b4" stroke="#808080" stroke-width="1.2"/><line x1="1358.9" y1="309.3" x2="1400.5" y2="309.3" stroke="#000" stroke-width="1.8"/><path d="M1370.2 311.5H1389.2M1379.7 302.0V321.0" stroke="#000" stroke-width="2.6" fill="none"/>
<line x1="1467.9" y1="205.4" x2="1467.9" y2="270.4" stroke="#000" stroke-width="2.4"/><line x1="1467.9" y1="323.4" x2="1467.9" y2="346.3" stroke="#000" stroke-width="2.4"/><line x1="1456.4" y1="205.4" x2="1479.4" y2="205.4" stroke="#000" stroke-width="2.4"/><line x1="1456.4" y1="346.3" x2="1479.4" y2="346.3" stroke="#000" stroke-width="2.4"/><rect x="1447.2" y="270.4" width="41.5" height="53.0" fill="#1f77b4" stroke="#808080" stroke-width="1.2"/><line x1="1447.2" y1="307.2" x2="1488.7" y2="307.2" stroke="#000" stroke-width="1.8"/><path d="M1458.4 289.2H1477.4M1467.9 279.7V298.7" stroke="#000" stroke-width="2.6" fill="none"/>
<line x1="1555.9" y1="128.4" x2="1555.9" y2="141.9" stroke="#000" stroke-width="2.4"/><line x1="1555.9" y1="213.9" x2="1555.9" y2="255.2" stroke="#000" stroke-width="2.4"/><line x1="1544.4" y1="128.4" x2="1567.4" y2="128.4" stroke="#000" stroke-width="2.4"/><line x1="1544.4" y1="255.2" x2="1567.4" y2="255.2" stroke="#000" stroke-width="2.4"/><rect x="1535.3" y="141.9" width="41.4" height="72.0" fill="#1f77b4" stroke="#808080" stroke-width="1.2"/><line x1="1535.3" y1="185.9" x2="1576.7" y2="185.9" stroke="#000" stroke-width="1.8"/><path d="M1546.4 184.6H1565.4M1555.9 175.1V194.1" stroke="#000" stroke-width="2.6" fill="none"/>
<line x1="1644.3" y1="107.6" x2="1644.3" y2="141.9" stroke="#000" stroke-width="2.4"/><line x1="1644.3" y1="223.2" x2="1644.3" y2="251.8" stroke="#000" stroke-width="2.4"/><line x1="1632.8" y1="107.6" x2="1655.8" y2="107.6" stroke="#000" stroke-width="2.4"/><line x1="1632.8" y1="251.8" x2="1655.8" y2="251.8" stroke="#000" stroke-width="2.4"/><rect x="1623.5" y="141.9" width="41.8" height="81.3" fill="#1f77b4" stroke="#808080" stroke-width="1.2"/><line x1="1623.5" y1="195.3" x2="1665.3" y2="195.3" stroke="#000" stroke-width="1.8"/><path d="M1634.8 184.6H1653.8M1644.3 175.1V194.1" stroke="#000" stroke-width="2.6" fill="none"/>
<line x1="1732.4" y1="52.9" x2="1732.4" y2="88.4" stroke="#000" stroke-width="2.4"/><line x1="1732.4" y1="201.9" x2="1732.4" y2="217.1" stroke="#000" stroke-width="2.4"/><line x1="1720.9" y1="52.9" x2="1743.9" y2="52.9" stroke="#000" stroke-width="2.4"/><line x1="1720.9" y1="217.1" x2="1743.9" y2="217.1" stroke="#000" stroke-width="2.4"/><rect x="1711.6" y="88.4" width="41.5" height="113.5" fill="#1f77b4" stroke="#808080" stroke-width="1.2"/><line x1="1711.6" y1="139.1" x2="1753.1" y2="139.1" stroke="#000" stroke-width="1.8"/><path d="M1722.9 140.4H1741.9M1732.4 130.9V149.9" stroke="#000" stroke-width="2.6" fill="none"/>
<line x1="1820.4" y1="138.5" x2="1820.4" y2="143.5" stroke="#000" stroke-width="2.4"/><line x1="1820.4" y1="186.8" x2="1820.4" y2="204.5" stroke="#000" stroke-width="2.4"/><line x1="1808.9" y1="138.5" x2="1831.9" y2="138.5" stroke="#000" stroke-width="2.4"/><line x1="1808.9" y1="204.5" x2="1831.9" y2="204.5" stroke="#000" stroke-width="2.4"/><rect x="1799.6" y="143.5" width="41.8" height="43.3" fill="#1f77b4" stroke="#808080" stroke-width="1.2"/><line x1="1799.6" y1="156.7" x2="1841.4" y2="156.7" stroke="#000" stroke-width="1.8"/><path d="M1810.9 165.3H1829.9M1820.4 155.8V174.8" stroke="#000" stroke-width="2.6" fill="none"/>
<line x1="1908.7" y1="152.3" x2="1908.7" y2="170.2" stroke="#000" stroke-width="2.4"/><line x1="1908.7" y1="195.2" x2="1908.7" y2="228.6" stroke="#000" stroke-width="2.4"/><line x1="1897.2" y1="152.3" x2="1920.2" y2="152.3" stroke="#000" stroke-width="2.4"/><line x1="1897.2" y1="228.6" x2="1920.2" y2="228.6" stroke="#000" stroke-width="2.4"/><rect x="1887.9" y="170.2" width="41.5" height="25.0" fill="#1f77b4" stroke="#808080" stroke-width="1.2"/><line x1="1887.9" y1="182.7" x2="1929.4" y2="182.7" stroke="#000" stroke-width="1.8"/><path d="M1899.2 185.0H1918.2M1908.7 175.5V194.5" stroke="#000" stroke-width="2.6" fill="none"/>
<line x1="1996.8" y1="159.3" x2="1996.8" y2="201.5" stroke="#000" stroke-width="2.4"/><line x1="1996.8" y1="230.4" x2="1996.8" y2="255.1" stroke="#000" stroke-width="2.4"/><line x1="1985.3" y1="159.3" x2="2008.3" y2="159.3" stroke="#000" stroke-width="2.4"/><line x1="1985.3" y1="255.1" x2="2008.3" y2="255.1" stroke="#000" stroke-width="2.4"/><rect x="1976.0" y="201.5" width="41.6" height="28.9" fill="#1f77b4" stroke="#808080" stroke-width="1.2"/><line x1="1976.0" y1="219.8" x2="2017.6" y2="219.8" stroke="#000" stroke-width="1.8"/><path d="M1987.3 211.0H2006.3M1996.8 201.5V220.5" stroke="#000" stroke-width="2.6" fill="none"/>
<line x1="1203.5" y1="588.5" x2="1203.5" y2="615.7" stroke="#000" stroke-width="2.4"/><line x1="1203.5" y1="654.6" x2="1203.5" y2="656.1" stroke="#000" stroke-width="2.4"/><line x1="1192.0" y1="588.5" x2="1215.0" y2="588.5" stroke="#000" stroke-width="2.4"/><line x1="1192.0" y1="656.1" x2="1215.0" y2="656.1" stroke="#000" stroke-width="2.4"/><rect x="1182.4" y="615.7" width="42.2" height="38.9" fill="#ff7f0e" stroke="#808080" stroke-width="1.2"/><line x1="1182.4" y1="654.8" x2="1224.6" y2="654.8" stroke="#000" stroke-width="1.8"/><path d="M1194.0 636.9H1213.0M1203.5 627.4V646.4" stroke="#000" stroke-width="2.6" fill="none"/>
<line x1="1291.6" y1="577.1" x2="1291.6" y2="604.5" stroke="#000" stroke-width="2.4"/><line x1="1291.6" y1="652.1" x2="1291.6" y2="656.1" stroke="#000" stroke-width="2.4"/><line x1="1280.1" y1="577.1" x2="1303.1" y2="577.1" stroke="#000" stroke-width="2.4"/><line x1="1280.1" y1="656.1" x2="1303.1" y2="656.1" stroke="#000" stroke-width="2.4"/><rect x="1270.9" y="604.5" width="41.7" height="47.6" fill="#ff7f0e" stroke="#808080" stroke-width="1.2"/><line x1="1270.9" y1="644.4" x2="1312.6" y2="644.4" stroke="#000" stroke-width="1.8"/><path d="M1282.1 628.1H1301.1M1291.6 618.6V637.6" stroke="#000" stroke-width="2.6" fill="none"/>
<line x1="1379.7" y1="567.5" x2="1379.7" y2="579.2" stroke="#000" stroke-width="2.4"/><line x1="1379.7" y1="643.0" x2="1379.7" y2="656.6" stroke="#000" stroke-width="2.4"/><line x1="1368.2" y1="567.5" x2="1391.2" y2="567.5" stroke="#000" stroke-width="2.4"/><line x1="1368.2" y1="656.6" x2="1391.2" y2="656.6" stroke="#000" stroke-width="2.4"/><rect x="1359.0" y="579.2" width="41.7" height="63.8" fill="#ff7f0e" stroke="#808080" stroke-width="1.2"/><line x1="1359.0" y1="588.5" x2="1400.7" y2="588.5" stroke="#000" stroke-width="1.8"/><path d="M1370.2 608.1H1389.2M1379.7 598.6V617.6" stroke="#000" stroke-width="2.6" fill="none"/>
<line x1="1467.9" y1="560.5" x2="1467.9" y2="572.5" stroke="#000" stroke-width="2.4"/><line x1="1467.9" y1="621.4" x2="1467.9" y2="656.6" stroke="#000" stroke-width="2.4"/><line x1="1456.4" y1="560.5" x2="1479.4" y2="560.5" stroke="#000" stroke-width="2.4"/><line x1="1456.4" y1="656.6" x2="1479.4" y2="656.6" stroke="#000" stroke-width="2.4"/><rect x="1447.1" y="572.5" width="41.7" height="48.9" fill="#ff7f0e" stroke="#808080" stroke-width="1.2"/><line x1="1447.1" y1="580.2" x2="1488.8" y2="580.2" stroke="#000" stroke-width="1.8"/><path d="M1458.4 598.1H1477.4M1467.9 588.6V607.6" stroke="#000" stroke-width="2.6" fill="none"/>
<line x1="1555.9" y1="492.0" x2="1555.9" y2="544.6" stroke="#000" stroke-width="2.4"/><line x1="1555.9" y1="618.5" x2="1555.9" y2="655.6" stroke="#000" stroke-width="2.4"/><line x1="1544.4" y1="492.0" x2="1567.4" y2="492.0" stroke="#000" stroke-width="2.4"/><line x1="1544.4" y1="655.6" x2="1567.4" y2="655.6" stroke="#000" stroke-width="2.4"/><rect x="1535.4" y="544.6" width="41.0" height="73.9" fill="#ff7f0e" stroke="#808080" stroke-width="1.2"/><line x1="1535.4" y1="579.9" x2="1576.4" y2="579.9" stroke="#000" stroke-width="1.8"/><path d="M1546.4 579.0H1565.4M1555.9 569.5V588.5" stroke="#000" stroke-width="2.6" fill="none"/>
<line x1="1644.3" y1="438.3" x2="1644.3" y2="519.3" stroke="#000" stroke-width="2.4"/><line x1="1644.3" y1="638.1" x2="1644.3" y2="649.1" stroke="#000" stroke-width="2.4"/><line x1="1632.8" y1="438.3" x2="1655.8" y2="438.3" stroke="#000" stroke-width="2.4"/><line x1="1632.8" y1="649.1" x2="1655.8" y2="649.1" stroke="#000" stroke-width="2.4"/><rect x="1623.6" y="519.3" width="41.3" height="118.8" fill="#ff7f0e" stroke="#808080" stroke-width="1.2"/><line x1="1623.6" y1="550.8" x2="1664.9" y2="550.8" stroke="#000" stroke-width="1.8"/><path d="M1634.8 559.7H1653.8M1644.3 550.2V569.2" stroke="#000" stroke-width="2.6" fill="none"/>
<line x1="1732.4" y1="553.2" x2="1732.4" y2="561.5" stroke="#000" stroke-width="2.4"/><line x1="1732.4" y1="643.1" x2="1732.4" y2="651.1" stroke="#000" stroke-width="2.4"/><line x1="1720.9" y1="553.2" x2="1743.9" y2="553.2" stroke="#000" stroke-width="2.4"/><line x1="1720.9" y1="651.1" x2="1743.9" y2="651.1" stroke="#000" stroke-width="2.4"/><rect x="1711.7" y="561.5" width="41.3" height="81.6" fill="#ff7f0e" stroke="#808080" stroke-width="1.2"/><line x1="1711.7" y1="595.3" x2="1753.0" y2="595.3" stroke="#000" stroke-width="1.8"/><path d="M1722.9 600.1H1741.9M1732.4 590.6V609.6" stroke="#000" stroke-width="2.6" fill="none"/>
<line x1="1820.4" y1="535.3" x2="1820.4" y2="548.4" stroke="#000" stroke-width="2.4"/><line x1="1820.4" y1="622.9" x2="1820.4" y2="652.5" stroke="#000" stroke-width="2.4"/><line x1="1808.9" y1="535.3" x2="1831.9" y2="535.3" stroke="#000" stroke-width="2.4"/><line x1="1808.9" y1="652.5" x2="1831.9" y2="652.5" stroke="#000" stroke-width="2.4"/><rect x="1799.6" y="548.4" width="41.8" height="74.5" fill="#ff7f0e" stroke="#808080" stroke-width="1.2"/><line x1="1799.6" y1="557.4" x2="1841.4" y2="557.4" stroke="#000" stroke-width="1.8"/><path d="M1810.9 582.1H1829.9M1820.4 572.6V591.6" stroke="#000" stroke-width="2.6" fill="none"/>
<line x1="1908.7" y1="466.9" x2="1908.7" y2="541.6" stroke="#000" stroke-width="2.4"/><line x1="1908.7" y1="647.9" x2="1908.7" y2="655.2" stroke="#000" stroke-width="2.4"/><line x1="1897.2" y1="466.9" x2="1920.2" y2="466.9" stroke="#000" stroke-width="2.4"/><line x1="1897.2" y1="655.2" x2="1920.2" y2="655.2" stroke="#000" stroke-width="2.4"/><rect x="1887.9" y="541.6" width="41.3" height="106.3" fill="#ff7f0e" stroke="#808080" stroke-width="1.2"/><line x1="1887.9" y1="632.7" x2="1929.2" y2="632.7" stroke="#000" stroke-width="1.8"/><path d="M1899.2 591.9H1918.2M1908.7 582.4V601.4" stroke="#000" stroke-width="2.6" fill="none"/>
<line x1="1996.8" y1="590.5" x2="1996.8" y2="605.7" stroke="#000" stroke-width="2.4"/><line x1="1996.8" y1="643.8" x2="1996.8" y2="646.3" stroke="#000" stroke-width="2.4"/><line x1="1985.3" y1="590.5" x2="2008.3" y2="590.5" stroke="#000" stroke-width="2.4"/><line x1="1985.3" y1="646.3" x2="2008.3" y2="646.3" stroke="#000" stroke-width="2.4"/><rect x="1976.2" y="605.7" width="41.1" height="38.1" fill="#ff7f0e" stroke="#808080" stroke-width="1.2"/><line x1="1976.2" y1="637.6" x2="2017.3" y2="637.6" stroke="#000" stroke-width="1.8"/><path d="M1987.3 625.3H2006.3M1996.8 615.8V634.8" stroke="#000" stroke-width="2.6" fill="none"/>
<rect x="1141.3" y="22.5" width="917.7" height="664.2" fill="none" stroke="#000" stroke-width="2"/>
<line x1="1133.3" y1="661.0" x2="1141.3" y2="661.0" stroke="#000" stroke-width="2"/>
<text x="1124.2" y="674.2" text-anchor="end" font-family="DejaVu Sans, sans-serif" font-size="36">0.0</text>
<line x1="1133.3" y1="528.0" x2="1141.3" y2="528.0" stroke="#000" stroke-width="2"/>
<text x="1124.2" y="541.2" text-anchor="end" font-family="DejaVu Sans, sans-serif" font-size="36">0.1</text>
<line x1="1133.3" y1="394.9" x2="1141.3" y2="394.9" stroke="#000" stroke-width="2"/>
<text x="1124.2" y="408.1" text-anchor="end" font-family="DejaVu Sans, sans-serif" font-size="36">0.2</text>
<line x1="1133.3" y1="261.8" x2="1141.3" y2="261.8" stroke="#000" stroke-width="2"/>
<text x="1124.2" y="275.0" text-anchor="end" font-family="DejaVu Sans, sans-serif" font-size="36">0.3</text>
<line x1="1133.3" y1="128.8" x2="1141.3" y2="128.8" stroke="#000" stroke-width="2"/>
<text x="1124.2" y="142.0" text-anchor="end" font-family="DejaVu Sans, sans-serif" font-size="36">0.4</text>
<line x1="1203.5" y1="686.7" x2="1203.5" y2="695.2" stroke="#000" stroke-width="2"/>
<text x="1203.2" y="746.4" text-anchor="middle" font-family="DejaVu Sans, sans-serif" font-size="36">0</text>
<line x1="1291.7" y1="686.7" x2="1291.7" y2="695.2" stroke="#000" stroke-width="2"/>
<text x="1290.1" y="746.4" text-anchor="middle" font-family="DejaVu Sans, sans-serif" font-size="36">15</text>
<line x1="1379.8" y1="686.7" x2="1379.8" y2="695.2" stroke="#000" stroke-width="2"/>
<text x="1376.3" y="746.4" text-anchor="middle" font-family="DejaVu Sans, sans-serif" font-size="36">30</text>
<line x1="1468.0" y1="686.7" x2="1468.0" y2="695.2" stroke="#000" stroke-width="2"/>
<text x="1462.3" y="746.4" text-anchor="middle" font-family="DejaVu Sans, sans-serif" font-size="36">45</text>
<line x1="1556.1" y1="686.7" x2="1556.1" y2="695.2" stroke="#000" stroke-width="2"/>
<text x="1549.3" y="746.4" text-anchor="middle" font-family="DejaVu Sans, sans-serif" font-size="36">60</text>
<line x1="1644.2" y1="686.7" x2="1644.2" y2="695.2" stroke="#000" stroke-width="2"/>
<text x="1635.7" y="746.4" text-anchor="middle" font-family="DejaVu Sans, sans-serif" font-size="36">75</text>
<line x1="1732.4" y1="686.7" x2="1732.4" y2="695.2" stroke="#000" stroke-width="2"/>
<text x="1722.8" y="746.4" text-anchor="middle" font-family="DejaVu Sans, sans-serif" font-size="36">90</text>
<line x1="1820.6" y1="686.7" x2="1820.6" y2="695.2" stroke="#000" stroke-width="2"/>
<text x="1809.2" y="746.4" text-anchor="middle" font-family="DejaVu Sans, sans-serif" font-size="36">105</text>
<line x1="1908.7" y1="686.7" x2="1908.7" y2="695.2" stroke="#000" stroke-width="2"/>
<text x="1896.3" y="746.4" text-anchor="middle" font-family="DejaVu Sans, sans-serif" font-size="36">120</text>
<line x1="1996.8" y1="686.7" x2="1996.8" y2="695.2" stroke="#000" stroke-width="2"/>
<text x="1982.6" y="746.4" text-anchor="middle" font-family="DejaVu Sans, sans-serif" font-size="36">135</text>
<text x="1596" y="797.2" text-anchor="middle" font-family="DejaVu Sans, sans-serif" font-size="42.3">Time(s)</text>
<text transform="translate(1049.1 347.8) rotate(-90)" text-anchor="middle" font-family="DejaVu Sans, sans-serif" font-size="41.9">Photometric Error(mag)</text>
<rect x="1163.3" y="40.9" width="249" height="90.6" rx="5.5" fill="#fff" fill-opacity="0.8" stroke="#cccccc" stroke-width="1.6"/>
<rect x="1174.2" y="53.9" width="57" height="19.5" fill="#1f77b4" stroke="#808080" stroke-width="1.2"/>
<rect x="1174.2" y="95.5" width="57" height="19.5" fill="#ff7f0e" stroke="#808080" stroke-width="1.2"/>
<text x="1252.5" y="73.0" font-family="DejaVu Sans, sans-serif" font-size="28.5">masked</text>
<text x="1252.5" y="114.6" font-family="DejaVu Sans, sans-serif" font-size="28.5">unmasked</text>
</svg></body></html>
